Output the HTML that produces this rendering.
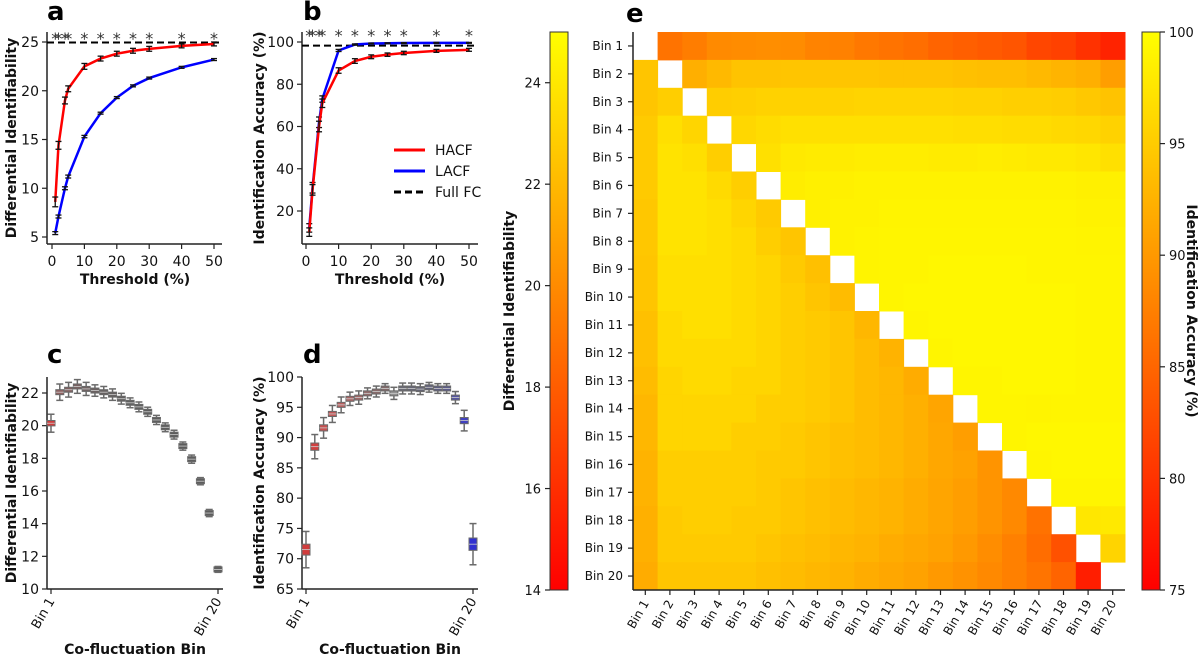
<!DOCTYPE html>
<html><head><meta charset="utf-8">
<style>
html,body{margin:0;padding:0;background:#fff;}
svg{display:block;font-family:"DejaVu Sans","Liberation Sans",sans-serif;}
</style></head>
<body>
<svg id="fig" width="1200" height="657" viewBox="0 0 1200 657" xmlns="http://www.w3.org/2000/svg">
<g id="root"></g>
</svg>
<script>
// ---------- Data ----------
const thresholds = [1,2,4,5,10,15,20,25,30,40,50];
const diHACF = [8.6,14.4,19.0,20.2,22.5,23.3,23.8,24.1,24.3,24.6,24.8];
const diHACFerr = [0.5,0.4,0.35,0.3,0.3,0.25,0.25,0.25,0.25,0.2,0.2];
const diLACF = [5.4,7.1,10.0,11.2,15.3,17.7,19.3,20.5,21.3,22.4,23.2];
const diLACFerr = [0.15,0.15,0.15,0.15,0.12,0.1,0.1,0.1,0.1,0.1,0.1];
const diFull = 24.95;
const accHACF = [10,30,60,71,86.5,91,93,94,94.8,95.8,96.3];
const accHACFerr = [2,2.5,2.5,2,1.3,1.1,0.9,0.8,0.8,0.7,0.7];
const accLACF = [12,31,62,73,96,98.8,99.3,99.4,99.5,99.6,99.6];
const accLACFerr = [2,2.5,2.5,1.5,0.5,0.3,0.2,0.2,0.2,0.2,0.2];
const accFull = 98.3;
const bins = [1,2,3,4,5,6,7,8,9,10,11,12,13,14,15,16,17,18,19,20];
const binDI = [20.15,22.05,22.2,22.4,22.25,22.15,22.05,21.9,21.65,21.4,21.15,20.85,20.35,19.9,19.45,18.75,17.95,16.6,14.65,11.2];
const binDIerr = [0.55,0.5,0.45,0.42,0.4,0.35,0.35,0.35,0.33,0.3,0.3,0.28,0.28,0.27,0.27,0.25,0.25,0.22,0.22,0.18];
const binAcc = [71.5,88.5,91.6,93.9,95.4,96.4,96.6,97.3,97.6,98.1,97.3,98.1,98.1,98.0,98.3,98.1,98.1,96.6,92.8,72.4];
const binAccErr = [3.0,2.0,1.7,1.4,1.3,1.1,1.1,0.9,0.9,0.8,1.0,0.9,0.9,0.9,0.8,0.8,0.8,1.0,1.7,3.4];
const diTicksA = [5,10,15,20,25];
const accTicksB = [20,40,60,80,100];
const thrTicks = [0,10,20,30,40,50];
const diTicksC = [10,12,14,16,18,20,22];
const accTicksD = [65,70,75,80,85,90,95,100];
const binLabels = ["Bin 1","Bin 2","Bin 3","Bin 4","Bin 5","Bin 6","Bin 7","Bin 8","Bin 9","Bin 10","Bin 11","Bin 12","Bin 13","Bin 14","Bin 15","Bin 16","Bin 17","Bin 18","Bin 19","Bin 20"];
// heatmap: upper triangle = identification accuracy (row i, cols i+1..20)
const accUpper = [
[86.3,87.3,88.5,88.7,88.9,88.7,87.8,87.6,86.8,86.3,85.8,84.8,84.3,83.8,83.3,81.9,81.4,79.9,78.4],
[92.2,93.1,94.1,94.1,94.3,94.3,94.3,94.3,94.1,94.1,94.1,93.8,93.6,93.6,93.1,92.6,92.2,90.5],
[95.1,95.3,95.6,95.6,95.6,95.6,95.8,95.8,95.8,95.8,95.6,95.6,95.3,95.3,95.1,94.6,94.1],
[96.1,96.6,97.0,97.0,97.0,97.0,97.0,97.0,97.0,96.8,96.8,96.6,96.6,96.3,96.1,95.6],
[97.0,97.8,98.0,98.0,98.2,98.2,98.2,98.0,98.0,98.2,98.0,97.8,97.8,97.5,97.0],
[98.2,98.5,98.5,98.7,98.7,98.7,98.7,98.7,98.7,98.7,98.7,98.7,98.5,98.5],
[98.5,98.7,98.7,98.9,98.9,98.9,98.9,98.9,98.9,98.9,98.9,98.7,98.7],
[98.7,98.9,99.0,99.0,99.0,99.0,99.0,99.0,99.0,99.0,98.9,98.9],
[98.9,99.0,99.0,99.2,99.2,99.2,99.2,99.0,99.0,99.0,99.0],
[99.0,99.2,99.2,99.2,99.2,99.2,99.2,99.2,99.0,99.0],
[99.0,99.2,99.2,99.2,99.2,99.2,99.2,99.0,99.0],
[99.0,99.2,99.2,99.2,99.2,99.2,99.0,99.0],
[99.0,99.0,99.2,99.2,99.2,99.0,99.0],
[99.0,99.0,98.9,99.0,99.0,99.0],
[99.0,99.2,99.2,99.2,99.2],
[99.0,99.2,99.2,99.2],
[99.0,99.0,99.0],
[97.6,97.8],
[95.8],
[]];
// lower triangle = differential identifiability (row i, cols 1..i-1)
const diLower = [
[],
[22.5],
[22.5,22.9],
[22.7,23.6,23.2],
[22.7,23.8,23.6,22.9],
[22.7,23.8,23.8,23.4,22.9],
[22.6,23.8,23.8,23.6,23.2,22.7],
[22.6,23.8,23.8,23.6,23.4,22.9,22.5],
[22.5,23.6,23.6,23.6,23.4,23.2,22.7,22.3],
[22.5,23.6,23.6,23.6,23.4,23.2,22.9,22.5,22.1],
[22.3,23.4,23.6,23.6,23.4,23.2,22.9,22.7,22.5,21.9],
[22.3,23.4,23.4,23.4,23.4,23.2,22.9,22.7,22.5,22.1,21.7],
[22.1,23.2,23.4,23.4,23.2,23.2,22.9,22.7,22.5,22.1,21.9,21.4],
[21.9,23.2,23.2,23.2,23.2,22.9,22.9,22.7,22.5,22.1,21.9,21.6,21.1],
[21.9,23.2,23.2,23.2,22.9,22.9,22.7,22.5,22.3,22.1,21.9,21.6,21.2,20.8],
[21.7,22.9,22.9,22.9,22.9,22.7,22.7,22.5,22.3,22.1,21.9,21.6,21.2,21.0,20.4],
[21.7,22.9,22.9,22.9,22.9,22.7,22.5,22.3,22.1,21.9,21.7,21.4,21.1,20.8,20.4,19.9],
[21.6,22.7,22.9,22.9,22.7,22.7,22.5,22.3,22.1,21.9,21.7,21.4,21.1,20.8,20.4,19.9,18.9],
[21.6,22.7,22.7,22.7,22.7,22.5,22.3,22.1,21.9,21.7,21.4,21.2,21.0,20.6,20.1,19.5,18.7,17.5],
[21.4,22.5,22.5,22.5,22.5,22.3,22.1,21.9,21.7,21.4,21.2,21.0,20.6,20.3,19.9,19.5,19.0,18.3,15.3]];
const diCbTicks = [14,16,18,20,22,24];
const accCbTicks = [75,80,85,90,95,100];

// ---------- helpers ----------
const NS = "http://www.w3.org/2000/svg";
const root = document.getElementById('root');
function mk(tag, attrs, parent, txt){
  const e = document.createElementNS(NS, tag);
  for (const k in attrs) e.setAttribute(k, attrs[k]);
  if (txt !== undefined) e.textContent = txt;
  (parent||root).appendChild(e);
  return e;
}
function lin(d0,d1,r0,r1){ return v => r0 + (v-d0)*(r1-r0)/(d1-d0); }
function autumn(t){ t=Math.max(0,Math.min(1,t)); return `rgb(255,${Math.round(255*t)},0)`; }

function axes(g, left, right, top, bottom){
  let e = mk('line',{x1:left,y1:top,x2:left,y2:bottom,stroke:'#222','stroke-width':1.5},g);
  
  
  e = mk('line',{x1:left,y1:bottom,x2:right,y2:bottom,stroke:'#222','stroke-width':1.5},g);
  
  
}
function yTicks(g, ticks, sy, left){
  ticks.forEach(t=>{
    mk('line',{x1:left-5,y1:sy(t),x2:left,y2:sy(t),stroke:'#222','stroke-width':1.2},g);
    const e = mk('text',{x:left-8,y:sy(t)+5,'text-anchor':'end','font-size':14,fill:'#111'},g,String(t));
    
    
  });
}
function xTicks(g, ticks, sx, bottom){
  ticks.forEach(t=>{
    mk('line',{x1:sx(t),y1:bottom,x2:sx(t),y2:bottom+5,stroke:'#222','stroke-width':1.2},g);
    const e = mk('text',{x:sx(t),y:bottom+22,'text-anchor':'middle','font-size':14,fill:'#111'},g,String(t));
    
    
  });
}
function label(g, txt, x, y, rot, name, size){
  const e = mk('text',{x:x,y:y,'text-anchor':'middle','font-size':size||14,'font-weight':'bold',fill:'#111',transform:rot?`rotate(${rot} ${x} ${y})`:''},g,txt);
  
  
  return e;
}
function panelLetter(txt,x,y){
  const e = mk('text',{x:x,y:y,'font-size':26,'font-weight':'bold',fill:'#000'},root,txt);
  
  
}
function series(g, xs, ys, errs, sx, sy, color, name){
  const pts = xs.map((x,i)=>`${sx(x)},${sy(ys[i])}`).join(' ');
  const l = mk('polyline',{points:pts,fill:'none',stroke:color,'stroke-width':2.5},g);
  
  
  xs.forEach((x,i)=>{
    const cx=sx(x), y1=sy(ys[i]-errs[i]), y2=sy(ys[i]+errs[i]);
    const eg = mk('g',{},g);
    
    
    mk('line',{x1:cx,y1:y1,x2:cx,y2:y2,stroke:'#111','stroke-width':1.3},eg);
    mk('line',{x1:cx-3,y1:y1,x2:cx+3,y2:y1,stroke:'#111','stroke-width':1.3},eg);
    mk('line',{x1:cx-3,y1:y2,x2:cx+3,y2:y2,stroke:'#111','stroke-width':1.3},eg);
  });
}
function stars(g, xs, sx, y){
  xs.forEach(x=>{
    const e = mk('text',{x:sx(x),y:y,'text-anchor':'middle','font-size':16,fill:'#333'},g,'*');
    
    
  });
}

// ---------- Panel a ----------
{
  const g = mk('g',{});  
  const sx = lin(0,50,52,214), sy = lin(5,25,237,42);
  axes(g,47,222,32,244);
  yTicks(g,diTicksA,sy,47); xTicks(g,thrTicks,sx,244);
  const d = mk('line',{x1:47,y1:sy(diFull),x2:222,y2:sy(diFull),stroke:'#000','stroke-width':2,'stroke-dasharray':'7,4'},g);
   
  series(g,thresholds,diLACF,diLACFerr,sx,sy,'#0000ff','lacf');
  series(g,thresholds,diHACF,diHACFerr,sx,sy,'#ff0000','hacf');
  stars(g,thresholds,sx,44);
  label(g,'Differential Identifiability',16,138,-90,'y-axis-title');
  label(g,'Threshold (%)',135,284,0,'x-axis-title');
}
panelLetter('a',47,20);
// ---------- Panel b ----------
{
  const g = mk('g',{});  
  const sx = lin(0,50,306,469), sy = lin(20,100,211,42);
  axes(g,302,478,32,244);
  yTicks(g,accTicksB,sy,302); xTicks(g,thrTicks,sx,244);
  const d = mk('line',{x1:302,y1:sy(accFull),x2:478,y2:sy(accFull),stroke:'#000','stroke-width':2,'stroke-dasharray':'7,4'},g);
   
  series(g,thresholds,accLACF,accLACFerr,sx,sy,'#0000ff','lacf');
  series(g,thresholds,accHACF,accHACFerr,sx,sy,'#ff0000','hacf');
  stars(g,thresholds,sx,41);
  label(g,'Identification Accuracy (%)',264,138,-90,'y-axis-title');
  label(g,'Threshold (%)',390,284,0,'x-axis-title');
  const lg = mk('g',{},g);  
  const items=[['HACF','#ff0000',''],['LACF','#0000ff',''],['Full FC','#000','7,4']];
  items.forEach((it,i)=>{
    const y=150+i*21;
    const eg = mk('g',{},lg);  
    mk('line',{x1:394,y1:y,x2:425,y2:y,stroke:it[1],'stroke-width':3,'stroke-dasharray':it[2]},eg);
    mk('text',{x:435,y:y+5,'font-size':14,fill:'#111'},eg,it[0]);
  });
}
panelLetter('b',303,20);

// ---------- Panels c, d ----------
const boxColC = ['#d03c3c','#906060','#806060','#786262','#706262','#6a6060','#666060','#646060','#626060','#606060','#606060','#5e5e5e','#5e5e5e','#5c5c5c','#5c5c5c','#5c5c5c','#5c5c5c','#5c5c5c','#5c5c5c','#5c5c5c'];
const boxColD = ['#d03c3c','#d04040','#c85050','#c05858','#b86060','#a86464','#a06868','#906a6a','#886a6a','#806868','#909090','#6a6a74','#666674','#646474','#606078','#5e5e80','#5c5c88','#5656a0','#4040c0','#3030d0'];
function boxes(g, ys, errs, sx, sy, cols, bw){
  ys.forEach((v,i)=>{
    const cx=sx(bins[i]);
    const bg = mk('g',{},g);
    
    
    const lo=sy(v-errs[i]), hi=sy(v+errs[i]);
    mk('line',{x1:cx,y1:lo,x2:cx,y2:hi,stroke:'#6a6a6a','stroke-width':1.5},bg);
    mk('line',{x1:cx-3.5,y1:lo,x2:cx+3.5,y2:lo,stroke:'#6a6a6a','stroke-width':1.5},bg);
    mk('line',{x1:cx-3.5,y1:hi,x2:cx+3.5,y2:hi,stroke:'#6a6a6a','stroke-width':1.5},bg);
    const bh = Math.max(5, Math.abs(sy(v+errs[i]*0.3)-sy(v-errs[i]*0.3)));
    mk('rect',{x:cx-bw/2,y:sy(v)-bh/2,width:bw,height:bh,fill:cols[i],stroke:'#6a6a6a','stroke-width':1},bg);
    mk('line',{x1:cx-bw/2,y1:sy(v),x2:cx+bw/2,y2:sy(v),stroke:'#ccc','stroke-width':0.8},bg);
  });
}
function binTickLabels(g, sx, bottom){
  [0,19].forEach(i=>{
    const x=sx(bins[i]);
    mk('line',{x1:x,y1:bottom,x2:x,y2:bottom+5,stroke:'#222','stroke-width':1.2},g);
    const e = mk('text',{x:x+4,y:bottom+12,'text-anchor':'end','font-size':13,fill:'#111',transform:`rotate(-60 ${x+4} ${bottom+12})`},g,binLabels[i]);
    
    
  });
}
{
  const g = mk('g',{});  
  const sx = lin(1,20,51,218), sy = lin(10,22,589,393);
  axes(g,47,223,377,589);
  yTicks(g,diTicksC,sy,47); binTickLabels(g,sx,589);
  boxes(g,binDI,binDIerr,sx,sy,boxColC,8);
  label(g,'Differential Identifiability',16,483,-90,'y-axis-title');
  label(g,'Co-fluctuation Bin',135,654,0,'x-axis-title');
}
panelLetter('c',47,363);
{
  const g = mk('g',{});  
  const sx = lin(1,20,306,473), sy = lin(65,100,589,377);
  axes(g,302,478,377,589);
  yTicks(g,accTicksD,sy,302); binTickLabels(g,sx,589);
  boxes(g,binAcc,binAccErr,sx,sy,boxColD,8);
  label(g,'Identification Accuracy (%)',264,483,-90,'y-axis-title');
  label(g,'Co-fluctuation Bin',390,654,0,'x-axis-title');
}
panelLetter('d',303,363);

// ---------- Panel e heatmap ----------
{
  const g = mk('g',{});  
  const L=633,R=1125,T=32,B=590;
  const cw=(R-L)/20, ch=(B-T)/20;
  const diC = v=>autumn((v-14)/11), accC = v=>autumn((v-75)/25);
  for(let i=0;i<20;i++){
    diLower[i].forEach((v,j)=>{
      const r = mk('rect',{x:L+j*cw,y:T+i*ch,width:cw+0.5,height:ch+0.5,fill:diC(v)},g);
      
      
    });
    accUpper[i].forEach((v,k)=>{
      const j=i+1+k;
      const r = mk('rect',{x:L+j*cw,y:T+i*ch,width:cw+0.5,height:ch+0.5,fill:accC(v)},g);
      
      
    });
  }
  axes(g,L,R,T,B);
  binLabels.forEach((b,i)=>{
    const y=T+(i+0.5)*ch, x=L+(i+0.5)*cw;
    mk('line',{x1:L-5,y1:y,x2:L,y2:y,stroke:'#222','stroke-width':1.2},g);
    let e = mk('text',{x:L-10,y:y+4,'text-anchor':'end','font-size':12,fill:'#111'},g,b);
    
    
    mk('line',{x1:x,y1:B,x2:x,y2:B+5,stroke:'#222','stroke-width':1.2},g);
    e = mk('text',{x:x+4,y:B+13,'text-anchor':'end','font-size':12,fill:'#111',transform:`rotate(-60 ${x+4} ${B+13})`},g,b);
    
    
  });
  const defs = mk('defs',{},g);
  const gr = mk('linearGradient',{id:'aut',x1:0,y1:1,x2:0,y2:0},defs);
  mk('stop',{offset:0,'stop-color':'#ff0000'},gr);
  mk('stop',{offset:1,'stop-color':'#ffff00'},gr);
  const cb1 = mk('g',{},g);  
  mk('rect',{x:550,y:T,width:18,height:B-T,fill:'url(#aut)',stroke:'#333','stroke-width':1},cb1);
  const s1 = lin(14,25,B,T);
  diCbTicks.forEach(t=>{
    mk('line',{x1:545,y1:s1(t),x2:550,y2:s1(t),stroke:'#222','stroke-width':1.2},cb1);
    const e = mk('text',{x:541,y:s1(t)+5,'text-anchor':'end','font-size':13,fill:'#111'},cb1,String(t));
     
  });
  label(g,'Differential Identifiability',514,311,-90,'colorbar-left-title');
  const cb2 = mk('g',{},g);  
  mk('rect',{x:1142,y:T,width:18,height:B-T,fill:'url(#aut)',stroke:'#333','stroke-width':1},cb2);
  const s2 = lin(75,100,B,T);
  accCbTicks.forEach(t=>{
    mk('line',{x1:1160,y1:s2(t),x2:1165,y2:s2(t),stroke:'#222','stroke-width':1.2},cb2);
    const e = mk('text',{x:1169,y:s2(t)+5,'font-size':13,fill:'#111'},cb2,String(t));
     
  });
  label(g,'Identification Accuracy (%)',1187,311,90,'colorbar-right-title');
}
panelLetter('e',626,22);
</script>
</body></html>
